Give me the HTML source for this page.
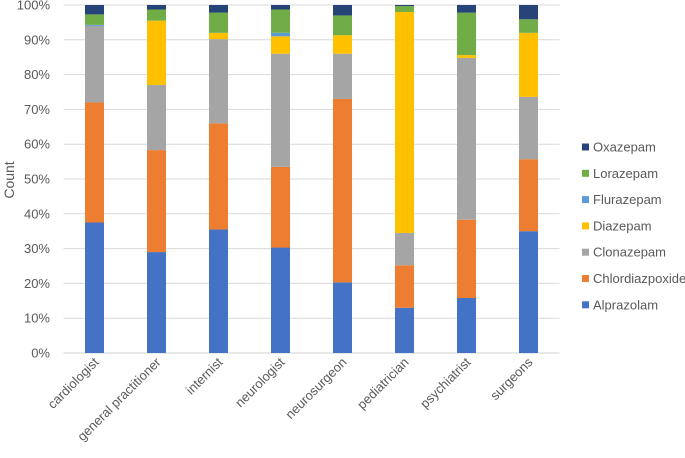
<!DOCTYPE html>
<html><head><meta charset="utf-8"><style>
body{margin:0;background:#fff;width:685px;height:453px;overflow:hidden}
svg text{font-family:"Liberation Sans",sans-serif;fill:#595959}
</style></head><body>
<svg id="chart" width="685" height="453">
<g id="grid"></g>
<g id="bars"></g>
<g id="xlabels"></g>
<g id="ylabels"></g>
<text transform="translate(14,180) rotate(-90)" text-anchor="middle" font-size="14">Count</text>
<g id="legend"></g>
</svg>
<script>
const categories=["cardiologist","general practitioner","internist","neurologist","neurosurgeon","pediatrician","psychiatrist","surgeons"];
const seriesNames=["Alprazolam","Chlordiazpoxide","Clonazepam","Diazepam","Flurazepam","Lorazepam","Oxazepam"];
const alprazolam=[37.5,29,35.5,30.3,20.3,13,15.8,35];
const chlordiazpoxide=[34.5,29.3,30.5,23.2,52.7,12.2,22.5,20.7];
const clonazepam=[22,18.7,24.2,32.5,13,9.3,46.5,17.9];
const diazepam=[0,18.5,1.8,5,5.3,63.5,0.8,18.4];
const flurazepam=[0.3,0,0,1,0,0,0,0];
const lorazepam=[3,3.2,5.8,6.7,5.7,1.7,12.2,3.9];
const oxazepam=[2.7,1.3,2.2,1.3,3,0.3,2.2,4.1];
const yTicks=[0,10,20,30,40,50,60,70,80,90,100];
const series=[alprazolam,chlordiazpoxide,clonazepam,diazepam,flurazepam,lorazepam,oxazepam];
const colors=["#4472c4","#ed7d31","#a5a5a5","#ffc000","#5b9bd5","#70ad47","#264478"];
const NS="http://www.w3.org/2000/svg";
const L=63.5,R=559.5,T=5,B=353;
const band=(R-L)/categories.length;
const y=v=>B-(v/100)*(B-T);
const xc=i=>L+band*(i+0.5);
function mk(tag,attrs,parent){const e=document.createElementNS(NS,tag);for(const k in attrs)e.setAttribute(k,attrs[k]);parent.appendChild(e);return e;}
const grid=document.getElementById('grid'),yl=document.getElementById('ylabels');
yTicks.forEach(t=>{
 const ln=mk('line',{x1:L,x2:R,y1:y(t),y2:y(t),stroke:t===0?'#d0d0d0':'#d9d9d9','stroke-width':1},grid);
 
 
 const tx=mk('text',{x:50,y:y(t)+4.5,'text-anchor':'end','font-size':13},yl);
 tx.textContent=t+'%';
 
 
});
const bars=document.getElementById('bars'),xl=document.getElementById('xlabels');
categories.forEach((c,i)=>{
 let cum=0;
 series.forEach((s,j)=>{
  const v=s[i];if(v<=0)return;
  const r=mk('rect',{x:xc(i)-9.5,width:19,y:y(cum+v),height:y(cum)-y(cum+v),fill:colors[j]},bars);
  
  
  cum+=v;
 });
 const tx=mk('text',{transform:`translate(${xc(i)+5},${363}) rotate(-45)`,'text-anchor':'end','font-size':13},xl);
 tx.textContent=c;
 
 
});
const lg=document.getElementById('legend');
for(let j=seriesNames.length-1;j>=0;j--){
 const k=seriesNames.length-1-j;
 const cy=147+k*26.3;
 const g=mk('g',{},lg);
 
 
 mk('rect',{x:582,y:cy-3.5,width:7,height:7,fill:colors[j]},g);
 const t=mk('text',{x:593,y:cy+4.5,'font-size':13},g);
 t.textContent=seriesNames[j];
}
</script>
</body></html>
